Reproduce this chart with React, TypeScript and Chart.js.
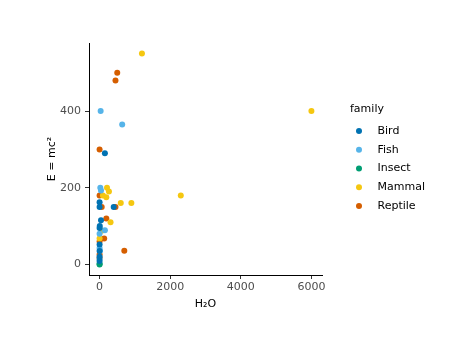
import React, { useEffect, useRef } from "react";
import { Chart, registerables } from "chart.js";

Chart.register(...registerables);

const families = ["Bird", "Fish", "Insect", "Mammal", "Reptile"];
const familyColors = ["#0072B2", "#56B4E9", "#009E73", "#F5C710", "#D55E00"];

const birdX = [150, 0, 0, 400, 40, 0, 5, 0, 0, 0, 0];
const birdY = [290, 162, 150, 150, 115, 95, 100, 52, 35, 20, 9];
const fishX = [30, 640, 20, 40, 150, 0, 0, 10, 0];
const fishY = [400, 365, 200, 193, 89, 80, 43, 36, 14];
const insectX = [0, 0];
const insectY = [0, 2];
const mammalX = [1200, 6000, 210, 265, 95, 190, 2300, 600, 900, 310, 60, 0];
const mammalY = [550, 400, 200, 190, 180, 175, 180, 160, 160, 110, 88, 68];
const reptileX = [500, 450, 0, 0, 60, 450, 190, 130, 0, 700, 0, 0];
const reptileY = [500, 480, 300, 180, 150, 150, 120, 68, 60, 36, 26, 17];

const xTicks = [0, 2000, 4000, 6000];
const yTicks = [0, 200, 400];

const xTitle = "H\u2082O";
const yTitle = "E = mc\u00B2";
const legendTitle = "family";

const FONT = "'DejaVu Sans', sans-serif";

const seriesX = [birdX, fishX, insectX, mammalX, reptileX];
const seriesY = [birdY, fishY, insectY, mammalY, reptileY];

export default function App() {
  const ref = useRef<HTMLCanvasElement>(null);
  useEffect(() => {
    document.body.style.margin = "0";
    const legendPlugin = {
      id: "customLegend",
      afterDraw(chart: any) {
        const ctx = chart.ctx;
        ctx.save();
        ctx.font = `11px ${FONT}`;
        ctx.fillStyle = "#000";
        ctx.textBaseline = "middle";
        ctx.textAlign = "left";
        ctx.fillText(legendTitle, 350, 109);
        families.forEach((f, i) => {
          const y = 131 + i * 18.75;
          ctx.beginPath();
          ctx.arc(359, y, 3, 0, Math.PI * 2);
          ctx.fillStyle = familyColors[i];
          ctx.fill();
          ctx.fillStyle = "#000";
          ctx.fillText(f, 377.5, y);
        });
        ctx.restore();
      },
    };
    const chart = new Chart(ref.current!, {
      type: "scatter",
      data: {
        datasets: families.map((f, i) => ({
          label: f,
          data: seriesX[i].map((x, j) => ({ x, y: seriesY[i][j] })),
          backgroundColor: familyColors[i],
          borderWidth: 0,
          pointRadius: 3,
        })),
      },
      options: {
        animation: false,
        responsive: false,
        devicePixelRatio: 1,
        layout: { padding: { left: 46, top: 43, right: 152, bottom: 44 } },
        plugins: { legend: { display: false }, tooltip: { enabled: false } },
        scales: {
          x: {
            type: "linear",
            min: -300,
            max: 6300,
            afterBuildTicks: (s: any) => {
              s.ticks = xTicks.map((v) => ({ value: v }));
            },
            afterFit: (s: any) => {
              s.height = 36;
            },
            grid: { drawOnChartArea: false, drawTicks: true, tickLength: 4, color: "#333" },
            border: { display: true, color: "#000", width: 1 },
            ticks: {
              color: "#4d4d4d",
              font: { family: FONT, size: 11 },
              padding: 2,
              maxRotation: 0,
              callback: (v: any) => String(v),
            },
            title: { display: true, text: xTitle, color: "#000", font: { family: FONT, size: 11 }, padding: 0 },
          },
          y: {
            type: "linear",
            min: -27.5,
            max: 577.5,
            afterBuildTicks: (s: any) => {
              s.ticks = yTicks.map((v) => ({ value: v }));
            },
            afterFit: (s: any) => {
              s.width = 43;
            },
            grid: { drawOnChartArea: false, drawTicks: true, tickLength: 4, color: "#333" },
            border: { display: true, color: "#000", width: 1 },
            ticks: {
              color: "#4d4d4d",
              font: { family: FONT, size: 11 },
              padding: 4,
              callback: (v: any) => String(v),
            },
            title: { display: true, text: yTitle, color: "#000", font: { family: FONT, size: 11 }, padding: 0 },
          },
        },
      },
      plugins: [legendPlugin],
    } as any);
    return () => chart.destroy();
  }, []);
  return (
    <div style={{ width: 474, height: 355 }}>
      <canvas ref={ref} width={474} height={355} />
    </div>
  );
}
